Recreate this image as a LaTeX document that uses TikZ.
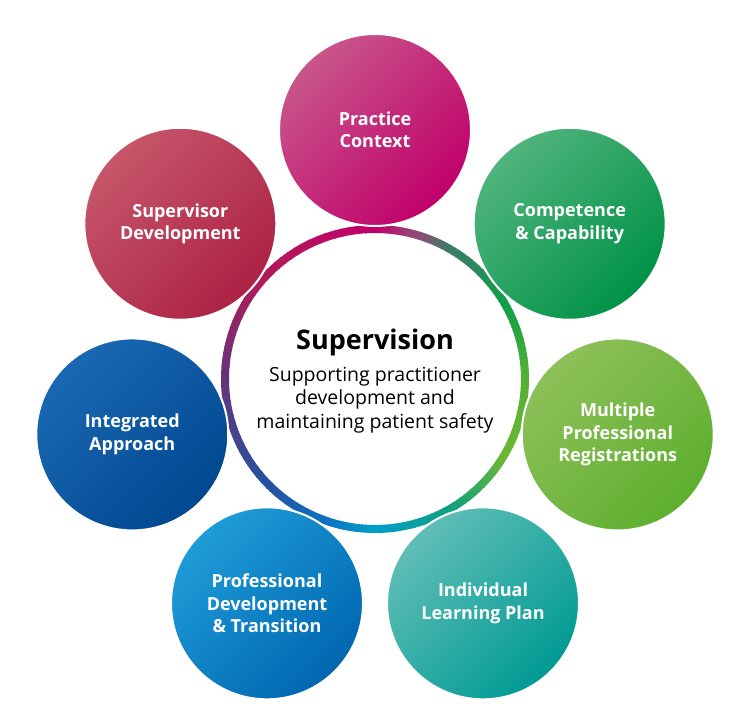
\documentclass[tikz,border=0pt]{standalone}
\usepackage{fontspec}
\setmainfont{Open Sans}

\definecolor{practiceL}{RGB}{200,86,138}
\definecolor{practiceD}{RGB}{192,0,106}
\definecolor{competenceL}{RGB}{80,180,125}
\definecolor{competenceD}{RGB}{0,146,70}
\definecolor{multipleL}{RGB}{142,192,90}
\definecolor{multipleD}{RGB}{94,175,46}
\definecolor{planL}{RGB}{96,190,182}
\definecolor{planD}{RGB}{0,154,148}
\definecolor{transitionL}{RGB}{30,156,215}
\definecolor{transitionD}{RGB}{0,102,176}
\definecolor{integratedL}{RGB}{26,104,178}
\definecolor{integratedD}{RGB}{0,72,144}
\definecolor{supervisorL}{RGB}{198,86,106}
\definecolor{supervisorD}{RGB}{172,34,68}

% colours round the ring, by angle
\definecolor{r90}{RGB}{192,0,106}
\definecolor{r140}{RGB}{176,28,88}
\definecolor{r180}{RGB}{100,52,122}
\definecolor{r225}{RGB}{36,82,160}
\definecolor{r250}{RGB}{16,112,192}
\definecolor{r270}{RGB}{0,158,200}
\definecolor{r300}{RGB}{18,160,128}
\definecolor{r330}{RGB}{108,184,50}
\definecolor{r360}{RGB}{84,176,52}
\definecolor{r390}{RGB}{14,160,72}
\definecolor{r420}{RGB}{60,124,104}
\definecolor{r435}{RGB}{150,70,118}

% one stretch of the ring, blending #3 into #4 from angle #1 to #2
\newcommand{\ringpart}[4]{%
  \foreach \i in {0,...,15}{%
    \pgfmathsetmacro{\ringsa}{#1+(#2-#1)*\i/16}%
    \pgfmathsetmacro{\ringea}{#1+(#2-#1)*(\i+1.2)/16}%
    \pgfmathtruncatemacro{\ringmix}{100-100*\i/15}%
    \draw[line width=8pt, #3!\ringmix!#4] (\ringsa:150pt) arc[start angle=\ringsa, end angle=\ringea, radius=150pt];
  }}

\begin{document}
\begin{tikzpicture}[x=1pt, y=1pt]
        \tikzstyle{bubble}=[circle, draw=white, line width=2pt, minimum size=192pt, inner sep=0pt, align=center, text=white, font=\fontsize{18}{22.5}\selectfont\bfseries]
        \tikzstyle{hub}=[circle, fill=white, minimum size=292pt, inner sep=0pt]
        \tikzstyle{hubtitle}=[inner sep=0pt, font=\fontsize{27}{32}\selectfont\bfseries]
        \tikzstyle{hubtext}=[inner sep=0pt, align=center, font=\fontsize{19.5}{23.3}\selectfont]

        \useasboundingbox (-375,-341) rectangle (365,379);

        \node[hub] (hub) at (0,0) {};
        \ringpart{90}{140}{r90}{r140}
        \ringpart{140}{180}{r140}{r180}
        \ringpart{180}{225}{r180}{r225}
        \ringpart{225}{250}{r225}{r250}
        \ringpart{250}{270}{r250}{r270}
        \ringpart{270}{300}{r270}{r300}
        \ringpart{300}{330}{r300}{r330}
        \ringpart{330}{360}{r330}{r360}
        \ringpart{360}{390}{r360}{r390}
        \ringpart{390}{420}{r390}{r420}
        \ringpart{420}{435}{r420}{r435}
        \ringpart{435}{450}{r435}{r90}

        \node[bubble, top color=practiceL, bottom color=practiceD, shading angle=45] (practice) at (90:249pt) {Practice\\Context};
        \node[bubble, top color=competenceL, bottom color=competenceD, shading angle=45] (competence) at (38.57:249pt) {Competence\\\& Capability};
        \node[bubble, top color=multipleL, bottom color=multipleD, shading angle=45] (registrations) at (-12.86:249pt) {Multiple\\Professional\\Registrations};
        \node[bubble, top color=planL, bottom color=planD, shading angle=45] (plan) at (-64.29:249pt) {Individual\\Learning Plan};
        \node[bubble, top color=transitionL, bottom color=transitionD, shading angle=45] (transition) at (-115.71:249pt) {Professional\\Development\\\& Transition};
        \node[bubble, top color=integratedL, bottom color=integratedD, shading angle=45] (integrated) at (192.86:249pt) {Integrated\\Approach};
        \node[bubble, top color=supervisorL, bottom color=supervisorD, shading angle=45] (supervisor) at (141.43:249pt) {Supervisor\\Development};

        \node[hubtitle, anchor=base] (title) at (0,29) {Supervision};
        \node[hubtext, below of=title, node distance=57pt] (tagline) {Supporting practitioner\\development and\\maintaining patient safety};
    \end{tikzpicture}
\end{document}
